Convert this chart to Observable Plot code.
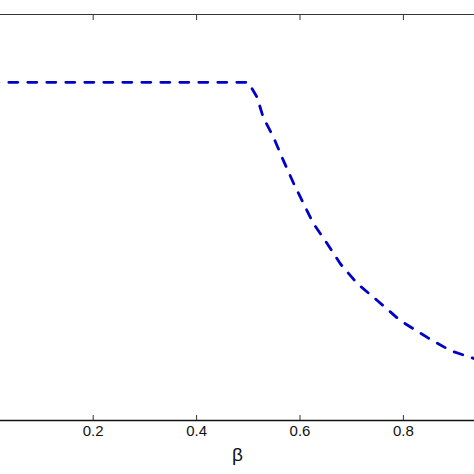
<!DOCTYPE html>
<html><head><meta charset="utf-8">
<script src="https://cdn.jsdelivr.net/npm/d3@7"></script>
<script src="https://cdn.jsdelivr.net/npm/@observablehq/plot@0.6"></script>
<style>
html,body{margin:0;padding:0;background:#fff;}
svg{overflow:hidden;}
</style>
</head><body>
<div id="chart"></div>
<script>
const betaValues = [0, 0.1, 0.2, 0.3, 0.4, 0.5, 0.517, 0.529, 0.549, 0.568, 0.588, 0.607, 0.626, 0.653, 0.678, 0.711, 0.750, 0.794, 0.847, 0.891, 0.938, 1.0];
const seriesValues = [0.833, 0.833, 0.833, 0.833, 0.833, 0.833, 0.796, 0.746, 0.697, 0.640, 0.583, 0.534, 0.485, 0.435, 0.386, 0.337, 0.295, 0.246, 0.204, 0.172, 0.152, 0.135];
const xTicks = [0.2, 0.4, 0.6, 0.8];
const yDomain = [0, 1];
const xLabel = ["β"];

const data = betaValues.map((b, i) => ({beta: b, value: seriesValues[i]}));

const chart = Plot.plot({
  width: 474,
  height: 474,
  marginLeft: 0,
  marginRight: 0,
  marginTop: 14,
  marginBottom: 54,
  style: {fontFamily: "'Liberation Sans', Arial, sans-serif", fontSize: "15px", background: "#fff", overflow: "hidden"},
  x: {domain: [0, 1], range: [-10.7, 506.3]},
  y: {domain: yDomain, axis: null},
  marks: [
    Plot.ruleY([yDomain[0]], {stroke: "#111", strokeWidth: 1.4}),
    Plot.ruleY([yDomain[1]], {stroke: "#333", strokeWidth: 1.1}),
    Plot.axisX({anchor: "bottom", ticks: xTicks, tickSize: -5, tickFormat: () => "", label: null, stroke: "#333"}),
    Plot.axisX({anchor: "top", ticks: xTicks, tickSize: -5, tickFormat: () => "", label: null, stroke: "#333"}),
    Plot.text(xTicks, {x: d => d, frameAnchor: "bottom", text: d => d3.format(".1f")(d), dy: 15, fontSize: 15, fill: "#111"}),
    Plot.text(xLabel, {frameAnchor: "bottom", text: d => d, dy: 40, fontSize: 19, fill: "#111"}),
    Plot.lineY(data, {x: "beta", y: "value", stroke: "#0000c8", strokeWidth: 2.8, strokeDasharray: "9,10", clip: true})
  ]
});
document.getElementById("chart").append(chart);
</script>
</body></html>
